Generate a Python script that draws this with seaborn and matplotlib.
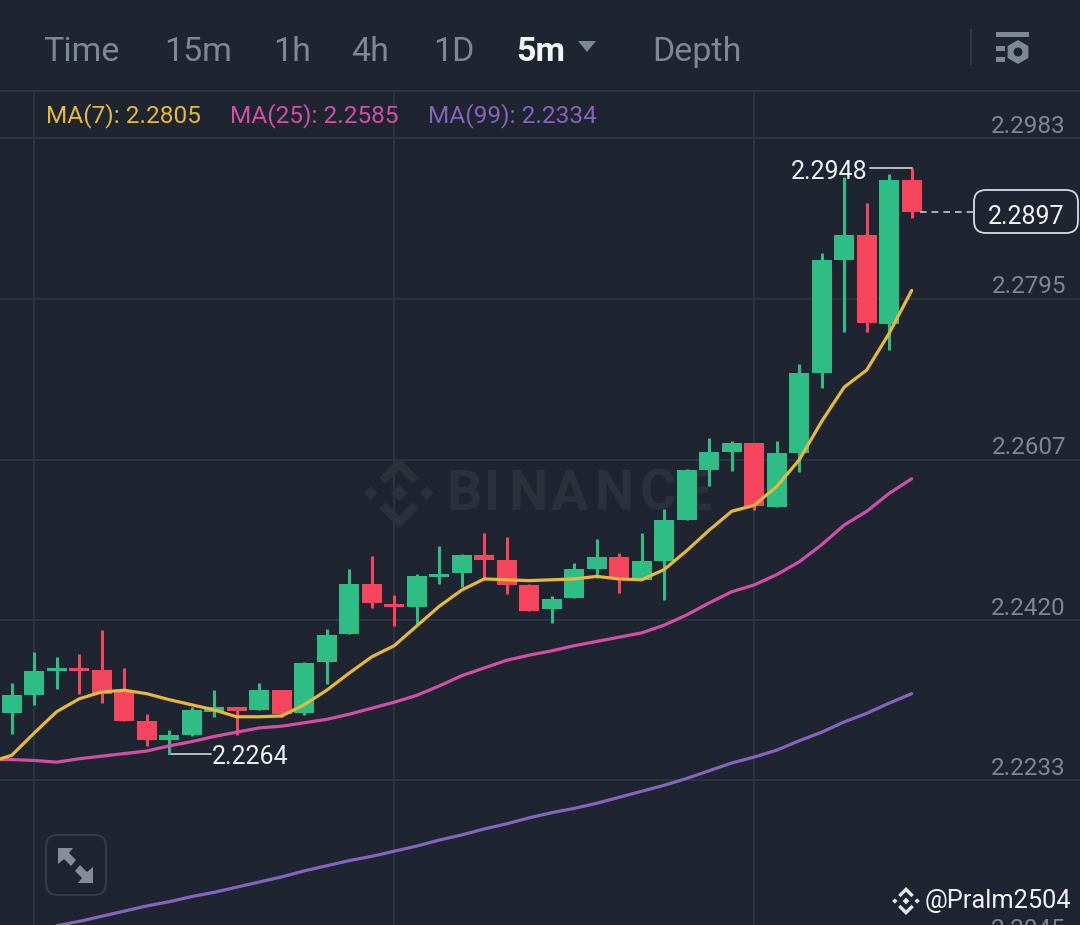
import numpy as np
import pandas as pd
import matplotlib
matplotlib.use('Agg')
import matplotlib.pyplot as plt
import seaborn as sns
from matplotlib.patches import FancyBboxPatch, Polygon, Rectangle, Circle
from matplotlib.transforms import Affine2D

# candles
opens = [2.2311, 2.2333, 2.2360, 2.2364, 2.2362, 2.2336, 2.2302, 2.2280, 2.2286, 2.2313, 2.2318,
         2.2315, 2.2338, 2.2311, 2.2371, 2.2404, 2.2462, 2.2439, 2.2435, 2.2470, 2.2475,
         2.2496, 2.2490, 2.2461, 2.2433, 2.2446, 2.2480, 2.2494, 2.2467, 2.2489, 2.2537,
         2.2595, 2.2616, 2.2627, 2.2552, 2.2615, 2.2708, 2.2841, 2.2870, 2.2766, 2.2934]
closes = [2.2332, 2.2360, 2.2364, 2.2360, 2.2334, 2.2302, 2.2280, 2.2286, 2.2315, 2.2318, 2.2314,
          2.2338, 2.2310, 2.2370, 2.2403, 2.2462, 2.2440, 2.2435, 2.2471, 2.2474, 2.2496,
          2.2490, 2.2461, 2.2431, 2.2445, 2.2480, 2.2494, 2.2468, 2.2489, 2.2537, 2.2595,
          2.2616, 2.2627, 2.2553, 2.2615, 2.2709, 2.2841, 2.2870, 2.2767, 2.2934, 2.2897]
highs = [2.2346, 2.2383, 2.2377, 2.2380, 2.2408, 2.2364, 2.2310, 2.2291, 2.2319, 2.2338, 2.2319,
         2.2347, 2.2338, 2.2371, 2.2409, 2.2480, 2.2495, 2.2449, 2.2474, 2.2506, 2.2497,
         2.2522, 2.2517, 2.2462, 2.2448, 2.2487, 2.2515, 2.2498, 2.2522, 2.2550, 2.2596,
         2.2633, 2.2629, 2.2627, 2.2629, 2.2719, 2.2849, 2.2937, 2.2907, 2.2941, 2.2948]
lows = [2.2287, 2.2321, 2.2339, 2.2334, 2.2323, 2.2302, 2.2273, 2.2264, 2.2285, 2.2307, 2.2286,
        2.2315, 2.2307, 2.2309, 2.2345, 2.2404, 2.2434, 2.2413, 2.2415, 2.2462, 2.2459,
        2.2468, 2.2450, 2.2431, 2.2417, 2.2446, 2.2469, 2.2452, 2.2467, 2.2443, 2.2537,
        2.2576, 2.2594, 2.2549, 2.2552, 2.2593, 2.2691, 2.2757, 2.2757, 2.2735, 2.2889]

# moving averages, first point is one candle left of the picture
ma7 = [2.2254, 2.2262, 2.2288, 2.2313, 2.2328, 2.2336, 2.2338, 2.2334, 2.2327, 2.2321, 2.2315, 2.2307,
       2.2307, 2.2308, 2.2321, 2.2338, 2.2358, 2.2377, 2.2390, 2.2413, 2.2436, 2.2455,
       2.2468, 2.2467, 2.2466, 2.2467, 2.2468, 2.2471, 2.2468, 2.2467, 2.2479, 2.2501,
       2.2525, 2.2547, 2.2554, 2.2576, 2.2607, 2.2652, 2.2692, 2.2712, 2.2755, 2.2805]
ma25 = [2.2257, 2.2257, 2.2256, 2.2254, 2.2258, 2.2261, 2.2264, 2.2267, 2.2273, 2.2278, 2.2284, 2.2289,
        2.2294, 2.2296, 2.2300, 2.2304, 2.2310, 2.2317, 2.2324, 2.2332, 2.2343, 2.2355,
        2.2364, 2.2373, 2.2379, 2.2384, 2.2390, 2.2395, 2.2400, 2.2405, 2.2414, 2.2426,
        2.2440, 2.2453, 2.2461, 2.2473, 2.2488, 2.2508, 2.2531, 2.2547, 2.2568, 2.2585]
ma99 = [2.2063, 2.2068, 2.2074, 2.2080, 2.2086, 2.2091, 2.2097, 2.2102, 2.2108, 2.2114, 2.2120,
        2.2127, 2.2133, 2.2139, 2.2144, 2.2150, 2.2156, 2.2163, 2.2169, 2.2176, 2.2182,
        2.2189, 2.2195, 2.2200, 2.2206, 2.2213, 2.2220, 2.2227, 2.2235, 2.2244, 2.2253,
        2.2260, 2.2268, 2.2279, 2.2289, 2.2301, 2.2311, 2.2323, 2.2334]

price_ticks = [2.2983, 2.2795, 2.2607, 2.2420, 2.2233, 2.2045]
interval_labels = ['Time', '15m', '1h', '4h', '1D', '5m', 'Depth']
ma_labels = ['MA(7): 2.2805', 'MA(25): 2.2585', 'MA(99): 2.2334']
last_price = 2.2897
high_mark = 2.2948
low_mark = 2.2264

BG = '#1e2430'
GRID = '#2e3440'
GREY = '#7f8794'
GREEN = '#2ebd85'
RED = '#f6465d'
YELLOW = '#e6b93c'
PINK = '#d24fa6'
PURPLE = '#8663bd'

sns.set_style('dark', {'axes.facecolor': BG, 'figure.facecolor': BG})
plt.rcParams['font.family'] = ['Roboto', 'DejaVu Sans']

fig = plt.figure(figsize=(10.8, 9.25), dpi=100)
ax = fig.add_axes([0, 0, 1, 1])
# picture pixels -> figure, for the app chrome around the chart
px = Affine2D().scale(1 / 1080, -1 / 925).translate(0, 1) + fig.transFigure

candles = pd.DataFrame({'idx': range(len(opens)), 'open': opens, 'close': closes, 'high': highs, 'low': lows})
candles['color'] = np.where(candles['close'] >= candles['open'], GREEN, RED)
candles['top'] = candles[['open', 'close']].max(axis=1)
candles['bottom'] = candles[['open', 'close']].min(axis=1)

ax.set_xticks([1, 17, 33])
ax.set_yticks(price_ticks)
ax.grid(True, color=GRID, lw=1.3)
ax.set_axisbelow(True)
ax.tick_params(length=0, labelbottom=False, labelleft=False)
for spine in ax.spines.values():
    spine.set_visible(False)

# header strip hides the vertical grid lines
ax.add_patch(Rectangle((0, 0), 1080, 91, transform=px, color=BG, zorder=1))
ax.plot([0, 1080], [91, 91], transform=px, color=GRID, lw=1.5, zorder=1.1)


def diamond(cx, cy, r, color, zorder=1.2):
    ax.add_patch(Polygon([(cx - r, cy), (cx, cy - r), (cx + r, cy), (cx, cy + r)], transform=px,
                         color=color, lw=0, zorder=zorder))


def binance_logo(cx, cy, r, color, zorder=1.2):
    # top and bottom chevrons, side and centre diamonds
    for sgn in (-1, 1):
        ax.add_patch(Polygon([(cx - r * 0.56, cy + sgn * r * 0.44), (cx, cy + sgn * r), (cx + r * 0.56, cy + sgn * r * 0.44),
                              (cx + r * 0.39, cy + sgn * r * 0.27), (cx, cy + sgn * r * 0.66), (cx - r * 0.39, cy + sgn * r * 0.27)],
                             transform=px, color=color, lw=0, zorder=zorder))
        diamond(cx + sgn * r * 0.8, cy, r * 0.19, color, zorder)
    diamond(cx, cy, r * 0.24, color, zorder)


# watermark, letters placed one by one for the wide tracking
binance_logo(399, 493, 35, '#2b303b')
for letter, x in zip('BINANCE', [447, 484, 509, 551, 595, 640, 681]):
    ax.text(x, 495, letter, transform=px, color='#2b303b', fontsize=40, fontweight='bold',
            va='center', ha='left', zorder=1.2)

ax.vlines(candles['idx'], candles['low'], candles['high'], colors=candles['color'], lw=2.2, zorder=3)
ax.bar(candles['idx'], candles['top'] - candles['bottom'], bottom=candles['bottom'], width=0.88,
       color=candles['color'], lw=0, zorder=3)

ma_frame = pd.DataFrame({'idx': range(-1, 41), 'ma7': ma7, 'ma25': ma25})
sns.lineplot(data=ma_frame, x='idx', y='ma25', color=PINK, lw=2.3, ax=ax, zorder=4, estimator=None)
sns.lineplot(data=ma_frame, x='idx', y='ma7', color=YELLOW, lw=2.3, ax=ax, zorder=4, estimator=None)
sns.lineplot(x=list(range(2, 41)), y=ma99, color=PURPLE, lw=2.3, ax=ax, zorder=4, estimator=None)
ax.set_xlabel('')
ax.set_ylabel('')

# price axis labels sit above their grid lines
for price in price_ticks:
    ax.annotate(f'{price:.4f}', xy=(1, price), xycoords=('axes fraction', 'data'), xytext=(-14, 12),
                textcoords='offset pixels', ha='right', va='center', color=GREY, fontsize=17.5,
                annotation_clip=False, zorder=5)

# high / low markers
ax.plot([38.15, 40], [high_mark, high_mark], color='#c4c8cf', lw=1.3, zorder=5)
ax.text(867, 172, f'{high_mark:.4f}', transform=px, color='#f0f1f3', fontsize=18, ha='right', va='center', zorder=6)
ax.plot([7, 7, 8.85], [low_mark + 0.0006, low_mark, low_mark], color='#c4c8cf', lw=1.3, zorder=2.5)
ax.text(212, 757, f'{low_mark:.4f}', transform=px, color='#f0f1f3', fontsize=18, ha='left', va='center', zorder=6)

# last price tag
ax.plot([40.35, 42.75], [last_price, last_price], color='#c4c8cf', lw=1.2, ls=(0, (4, 3)), zorder=5)
ax.add_patch(FancyBboxPatch((980, 196), 92, 31, boxstyle='round,pad=6,rounding_size=12', transform=px,
                            fc=BG, ec='#d8dade', lw=1.3, zorder=5))
ax.text(1026, 217, f'{last_price:.4f}', transform=px, color='#f5f5f6', fontsize=18, ha='center', va='center', zorder=6)

# interval tabs
tab_x = [43, 164, 273, 351, 433, 516, 652]
for label, x in zip(interval_labels, tab_x):
    active = label == '5m'
    ax.text(x, 52, label, transform=px, color='#f4f5f6' if active else GREY, fontsize=24.5,
            fontweight='bold' if active else 'normal', ha='left', va='center', zorder=6)
ax.add_patch(Polygon([(578, 41), (596, 41), (587, 52)], transform=px, color=GREY, lw=0, zorder=6))

# MA legend
for label, x, col in zip(ma_labels, [46, 230, 428], [YELLOW, PINK, PURPLE]):
    ax.text(x, 116, label, transform=px, color=col, fontsize=17.6, ha='left', va='center', zorder=6)

# settings icon top right
ax.plot([971, 971], [30, 64], transform=px, color='#343a46', lw=1.5, zorder=6)
ax.add_patch(Rectangle((996, 32), 33, 5, transform=px, color=GREY, lw=0, zorder=6))
ax.add_patch(Rectangle((996, 46), 9, 5, transform=px, color=GREY, lw=0, zorder=6))
ax.add_patch(Rectangle((996, 57), 9, 5, transform=px, color=GREY, lw=0, zorder=6))
hexagon = [(1018 + 12 * np.sin(a), 52 + 12 * np.cos(a)) for a in np.arange(6) * np.pi / 3]
ax.add_patch(Polygon(hexagon, transform=px, color=GREY, lw=0, zorder=6))
ax.add_patch(Circle((1018, 52), 4.5, transform=px, color=BG, lw=0, zorder=7))

# expand button bottom left
ax.add_patch(FancyBboxPatch((54, 843), 44, 44, boxstyle='round,pad=8,rounding_size=12', transform=px,
                            fc=BG, ec='#343a46', lw=1.6, zorder=5))
ax.add_patch(Polygon([(58, 848), (73, 848), (69, 853), (76, 860), (71, 866), (64, 859), (58, 864)], transform=px,
                     color='#878c96', lw=0, zorder=6))
ax.add_patch(Polygon([(93, 883), (78, 883), (82, 878), (75, 871), (80, 865), (87, 872), (93, 867)], transform=px,
                     color='#878c96', lw=0, zorder=6))

# repost handle
binance_logo(906, 901, 14, '#e8e9eb', zorder=7)
ax.text(925, 901, '@Pralm2504', transform=px, color='#f3f3f4', fontsize=18.3, ha='left', va='center', zorder=7)

# set last, set_xticks/set_yticks above would widen the view
ax.set_xlim(-0.52, 47.48)
ax.set_ylim(2.20638, 2.31442)

fig.savefig('out.png', dpi=100, facecolor=BG)
